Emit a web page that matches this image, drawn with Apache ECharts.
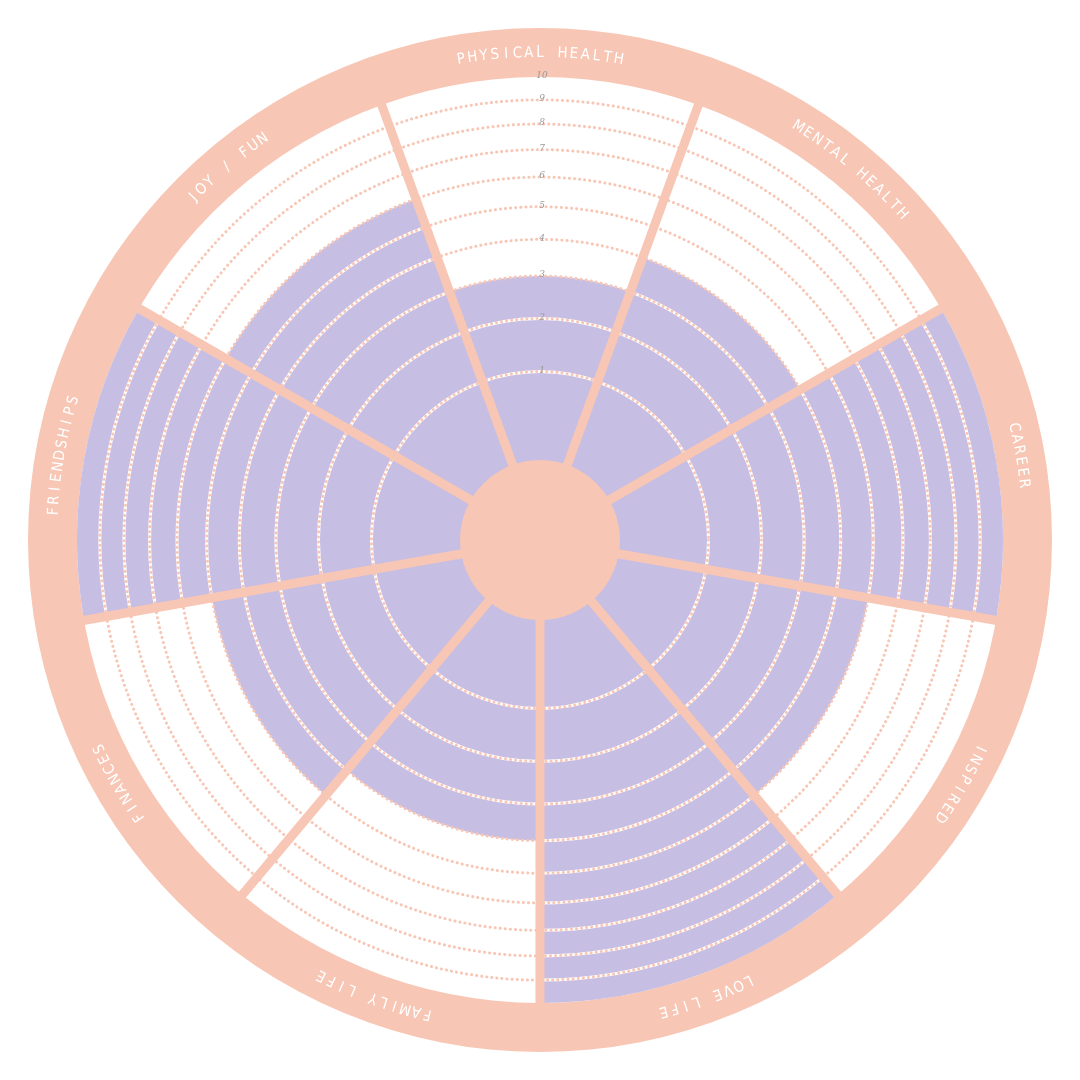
<!DOCTYPE html>
<html><head><meta charset="utf-8">
<script src="https://cdn.jsdelivr.net/npm/echarts@6/dist/echarts.min.js"></script>
<style>html,body{margin:0;background:#fff}#main{width:1080px;height:1080px}</style>
</head><body><div id="main"></div>
<script>
/* wheel of life */
var categories = ['PHYSICAL HEALTH','MENTAL HEALTH','CAREER','INSPIRED','LOVE LIFE','FAMILY LIFE','FINANCES','FRIENDSHIPS','JOY / FUN'];
var scores = [3, 4, 10, 5, 10, 4, 5, 10, 6];
var tickLabels = ['1','2','3','4','5','6','7','8','9','10'];

var peach = '#F8C6B4', lilac = '#C7BEE3';
var cx = 540, cy = 540, R0 = 88, R1 = 463, ringOut = 512, hub = 80;
var step = 360 / categories.length;

// equal-area radial scale
function rad(v){ return Math.sqrt(R0*R0 + v/10*(R1*R1 - R0*R0)); }
function toCanvas(deg){ return (deg - 90) * Math.PI / 180; }

var chart = echarts.init(document.getElementById('main'));

var graphics = [];
graphics.push({type:'circle', z:0, shape:{cx:cx,cy:cy,r:ringOut}, style:{fill:peach}});
graphics.push({type:'circle', z:0, shape:{cx:cx,cy:cy,r:R1}, style:{fill:'#fff'}});
// dotted rings
for (var k = 1; k < 10; k++) {
  graphics.push({type:'circle', z:20, shape:{cx:cx,cy:cy,r:rad(k)},
    style:{fill:null, stroke:peach, lineWidth:3, lineDash:[0.1,5], lineCap:'round'}});
}
// separators
for (var s = 0; s < categories.length; s++) {
  var a = toCanvas(s*step + step/2);
  graphics.push({type:'line', z:30, shape:{x1:cx,y1:cy,x2:cx+Math.cos(a)*(R1+5),y2:cy+Math.sin(a)*(R1+5)},
    style:{stroke:peach, lineWidth:9}});
}
graphics.push({type:'circle', z:31, shape:{cx:cx,cy:cy,r:hub}, style:{fill:peach}});
// tick labels
tickLabels.forEach(function(t, i){
  graphics.push({type:'text', z:32, x:cx+2, y:cy-rad(i+1)-1, style:{text:t, fill:'#999',
    font:'italic 9px DejaVu Serif', align:'center', verticalAlign:'middle'}});
});
// curved category labels
var rText = 487, charGap = 11.3;
categories.forEach(function(name, i){
  var centerDeg = i*step;
  var n = name.length;
  for (var c = 0; c < n; c++) {
    var deg = centerDeg + ((c - (n-1)/2) * charGap / rText) * 180 / Math.PI;
    var a = toCanvas(deg);
    graphics.push({type:'text', z:40, x:cx+Math.cos(a)*rText, y:cy+Math.sin(a)*rText,
      rotation: -deg*Math.PI/180,
      style:{text:name[c], fill:'#fff', font:'15px "Liberation Sans Narrow","DejaVu Sans Condensed"',
        align:'center', verticalAlign:'middle'}});
  }
});

chart.setOption({
  animation:false,
  graphic:graphics,
  series:[{
    type:'custom', coordinateSystem:'none', z:10,
    data: scores.map(function(v,i){ return [i, v]; }),
    renderItem:function(params, api){
      var i = api.value(0), v = api.value(1);
      var a0 = toCanvas(i*step - step/2), a1 = toCanvas(i*step + step/2);
      var kids = [{type:'sector', shape:{cx:cx,cy:cy,r0:0,r:rad(v),startAngle:a0,endAngle:a1,clockwise:true},
        style:{fill:lilac}}];
      for (var k = 1; k < v; k++) {
        kids.push({type:'arc', shape:{cx:cx,cy:cy,r:rad(k),startAngle:a0,endAngle:a1,clockwise:true},
          style:{fill:null, stroke:'#fff', lineWidth:3}});
      }
      return {type:'group', children:kids};
    }
  }]
});
</script></body></html>
